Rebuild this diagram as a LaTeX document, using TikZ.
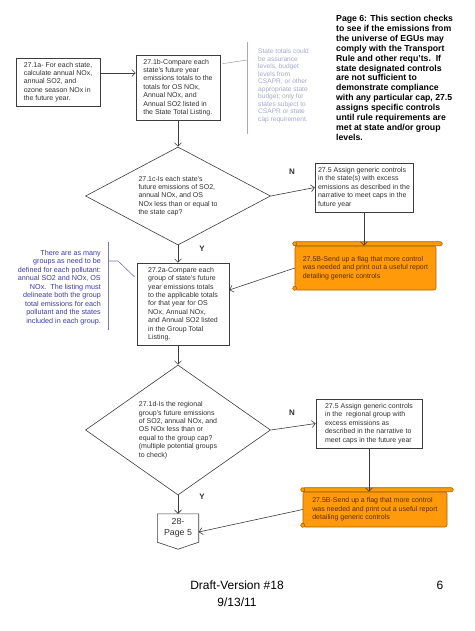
\documentclass[tikz,border=0pt]{standalone}
\usepackage{fontspec}
\setmainfont{Liberation Sans}
\usepackage{xcolor}
\usetikzlibrary{arrows.meta, shapes.geometric, positioning}

\definecolor{linegray}{HTML}{3C3C3C}
\definecolor{textgray}{HTML}{303030}
\definecolor{flagfill}{HTML}{FF9A0A}
\definecolor{flagedge}{HTML}{A86200}
\definecolor{flagtext}{HTML}{5A2D00}
\definecolor{notegray}{HTML}{A6A6CC}
\definecolor{noteblue}{HTML}{3A3AA2}

\begin{document}
\begin{tikzpicture}[x=1pt, y=-1pt,
  box/.style={rectangle, draw=linegray, line width=0.6pt, text=textgray, align=left, inner xsep=3pt, font=\fontsize{7}{8.4}\selectfont},
  decide/.style={diamond, draw=linegray, line width=0.6pt, text=textgray, align=left, inner sep=0pt, font=\fontsize{7}{8.4}\selectfont},
  flag/.style={rectangle, rounded corners=2pt, draw=flagedge, line width=0.6pt, fill=flagfill, text=flagtext, align=left, inner xsep=5pt, font=\fontsize{7}{8.6}\selectfont},
  flagbar/.style={draw=flagedge, line width=0.6pt, fill=flagfill, rounded corners=2pt},
  line/.style={draw=linegray, line width=0.6pt},
  arr/.style={line, -{Straight Barb[length=3.5pt, width=7pt]}},
  yn/.style={text=textgray, font=\bfseries\fontsize{8}{9}\selectfont},
  grayline/.style={draw=notegray, line width=0.6pt},
  blueline/.style={draw=noteblue!70, line width=0.6pt}]

\useasboundingbox (0,0) rectangle (474,631);

% first state level check
\node[box, minimum width=84pt, minimum height=48pt] (a1) at (58,82) {27.1a- For each state,\\calculate annual NOx,\\annual SO2, and\\ozone season NOx in\\the future year.};
\node[box, minimum width=84pt, minimum height=65pt] (b1) at (178,87.5) {27.1b-Compare each\\state's future year\\emissions totals to the\\totals for OS NOx,\\Annual NOx, and\\Annual SO2 listed in\\the State Total Listing.};
\node[decide, aspect=1.9, minimum width=185pt, minimum height=98pt] (d1) at (178,196) {27.1c-Is each state's\\future emissions of SO2,\\annual NOx, and OS\\NOx less than or equal to\\the state cap?};
\node[box, minimum width=96pt, minimum height=49pt] (g1) at (364,187.5) {27.5 Assign generic controls\\in the state(s) with excess\\emissions as described in the\\narrative to meet caps in the\\future year};
\node[flag, minimum width=141pt, minimum height=44pt] (f1) at (365.5,268) {27.5B-Send up a flag that more control\\was needed and print out a useful report\\detailing generic controls};
\draw[flagbar] ([yshift=4pt]f1.north west) rectangle ([xshift=6pt]f1.north east);
\draw[flagbar] ([yshift=2pt]f1.north west) circle (2pt);
\draw[flagbar] ([yshift=2pt]f1.south west) circle (2pt);

% group level check
\node[box, minimum width=92pt, minimum height=82pt] (c2) at (183,304) {27.2a-Compare each\\group of state's future\\year emissions totals\\to the applicable totals\\for that year for OS\\NOx, Annual NOx,\\and Annual SO2 listed\\in the Group Total\\Listing.};
\node[decide, aspect=1.42, minimum width=185pt, minimum height=130pt] (d2) at (178,430) {27.1d-Is the regional\\group's future emissions\\of SO2, annual NOx, and\\OS NOx less than or\\equal to the group cap?\\(multiple potential groups\\to check)};
\node[box, minimum width=106pt, minimum height=49pt] (g2) at (369,423.5) {27.5 Assign generic controls\\in the\ \ regional group with\\excess emissions as\\described in the narrative to\\meet caps in the future year};
\node[flag, minimum width=144pt, minimum height=35pt] (f2) at (375,509.5) {27.5B-Send up a flag that more control\\was needed and print out a useful report\\detailing generic controls};
\draw[flagbar] ([yshift=4pt]f2.north west) rectangle ([xshift=6pt]f2.north east);
\draw[flagbar] ([yshift=2pt]f2.north west) circle (2pt);
\draw[flagbar] ([yshift=2pt]f2.south west) circle (2pt);

% off page connector
\node[text=textgray, align=center, minimum width=41pt, minimum height=28pt, inner sep=0pt, font=\fontsize{8.8}{11}\selectfont] (pg5) at (178,528) {28-\\Page 5};
\draw[line] (pg5.north west) -- (pg5.north east) -- (pg5.south east) -- ([yshift=-7pt]pg5.south) -- (pg5.south west) -- cycle;

% labels
\node[yn] (n1) at (292,172) {N};
\node[yn] (y1) at (202,249) {Y};
\node[yn] (n2) at (292,413) {N};
\node[yn] (y2) at (202,497) {Y};

% connectors
\draw[arr] ([yshift=9pt]a1.east) coordinate (a1e) -- (a1e -| b1.west);
\draw[arr] (b1.south) -- (d1.north);
\draw[arr] (d1.east) -- (g1.west);
\draw[arr] (g1.south) -- (g1.south |- f1.north);
\draw[arr] (f1.west) -- ([yshift=14pt]c2.east);
\draw[arr] (d1.south) -- (d1.south |- c2.north);
\draw[arr] (c2.south -| d2.north) -- (d2.north);
\draw[arr] (d2.east) -- (g2.west);
\draw[arr] (g2.south) -- (g2.south |- f2.north);
\draw[arr] (f2.west) -- ([yshift=-4pt]pg5.east);
\draw[arr] (d2.south) -- (pg5.north);

% side notes
\node[anchor=north west, align=left, inner sep=0pt, text=notegray, font=\fontsize{6.6}{7.5}\selectfont] (nS) at (258,49) {State totals could\\be assurance\\levels, budget\\levels from\\CSAPR, or other\\appropriate state\\budget; only for\\states subject to\\CSAPR or state\\cap requirement.};
\coordinate (nSt) at (247,42);
\coordinate (nSb) at (247,134);
\coordinate (nSm) at (247,60);
\draw[grayline] (nSt) -- (nSb);
\draw[grayline] (nSm) -- ([xshift=2pt,yshift=-9pt]b1.north east);

\node[anchor=north east, align=right, inner sep=0pt, text=noteblue, font=\fontsize{7.2}{8.5}\selectfont] (nB) at (101,250) {There are as many\\groups as need to be\\defined for each pollutant:\\annual SO2 and NOx, OS\\NOx.\ \ The listing must\\delineate both the group\\total emissions for each\\pollutant and the states\\included in each group.};
\coordinate (nBt) at (108,242);
\coordinate (nBb) at (108,330);
\coordinate (nBm) at (108,261);
\draw[blueline] (nBt) -- (nBb);
\draw[blueline] (nBm) -- ++(10,0) -- ([xshift=-2pt,yshift=27pt]c2.west);

\node[anchor=north west, align=left, inner sep=0pt, font=\bfseries\fontsize{8.7}{9.9}\selectfont] (p6) at (336,15) {Page 6: This section checks\\to see if the emissions from\\the universe of EGUs may\\comply with the Transport\\Rule and other requ'ts.\ \ If\\state designated controls\\are not sufficient to\\demonstrate compliance\\with any particular cap, 27.5\\assigns specific controls\\until rule requirements are\\met at state and/or group\\levels.};

% footer
\node[align=center, inner sep=0pt, font=\fontsize{12}{17}\selectfont] (ver) at (237,593.5) {Draft-Version \#18\\9/13/11};
\node[inner sep=0pt, font=\fontsize{12}{17}\selectfont] (pgno) at (440,585) {6};

\end{tikzpicture}
\end{document}
